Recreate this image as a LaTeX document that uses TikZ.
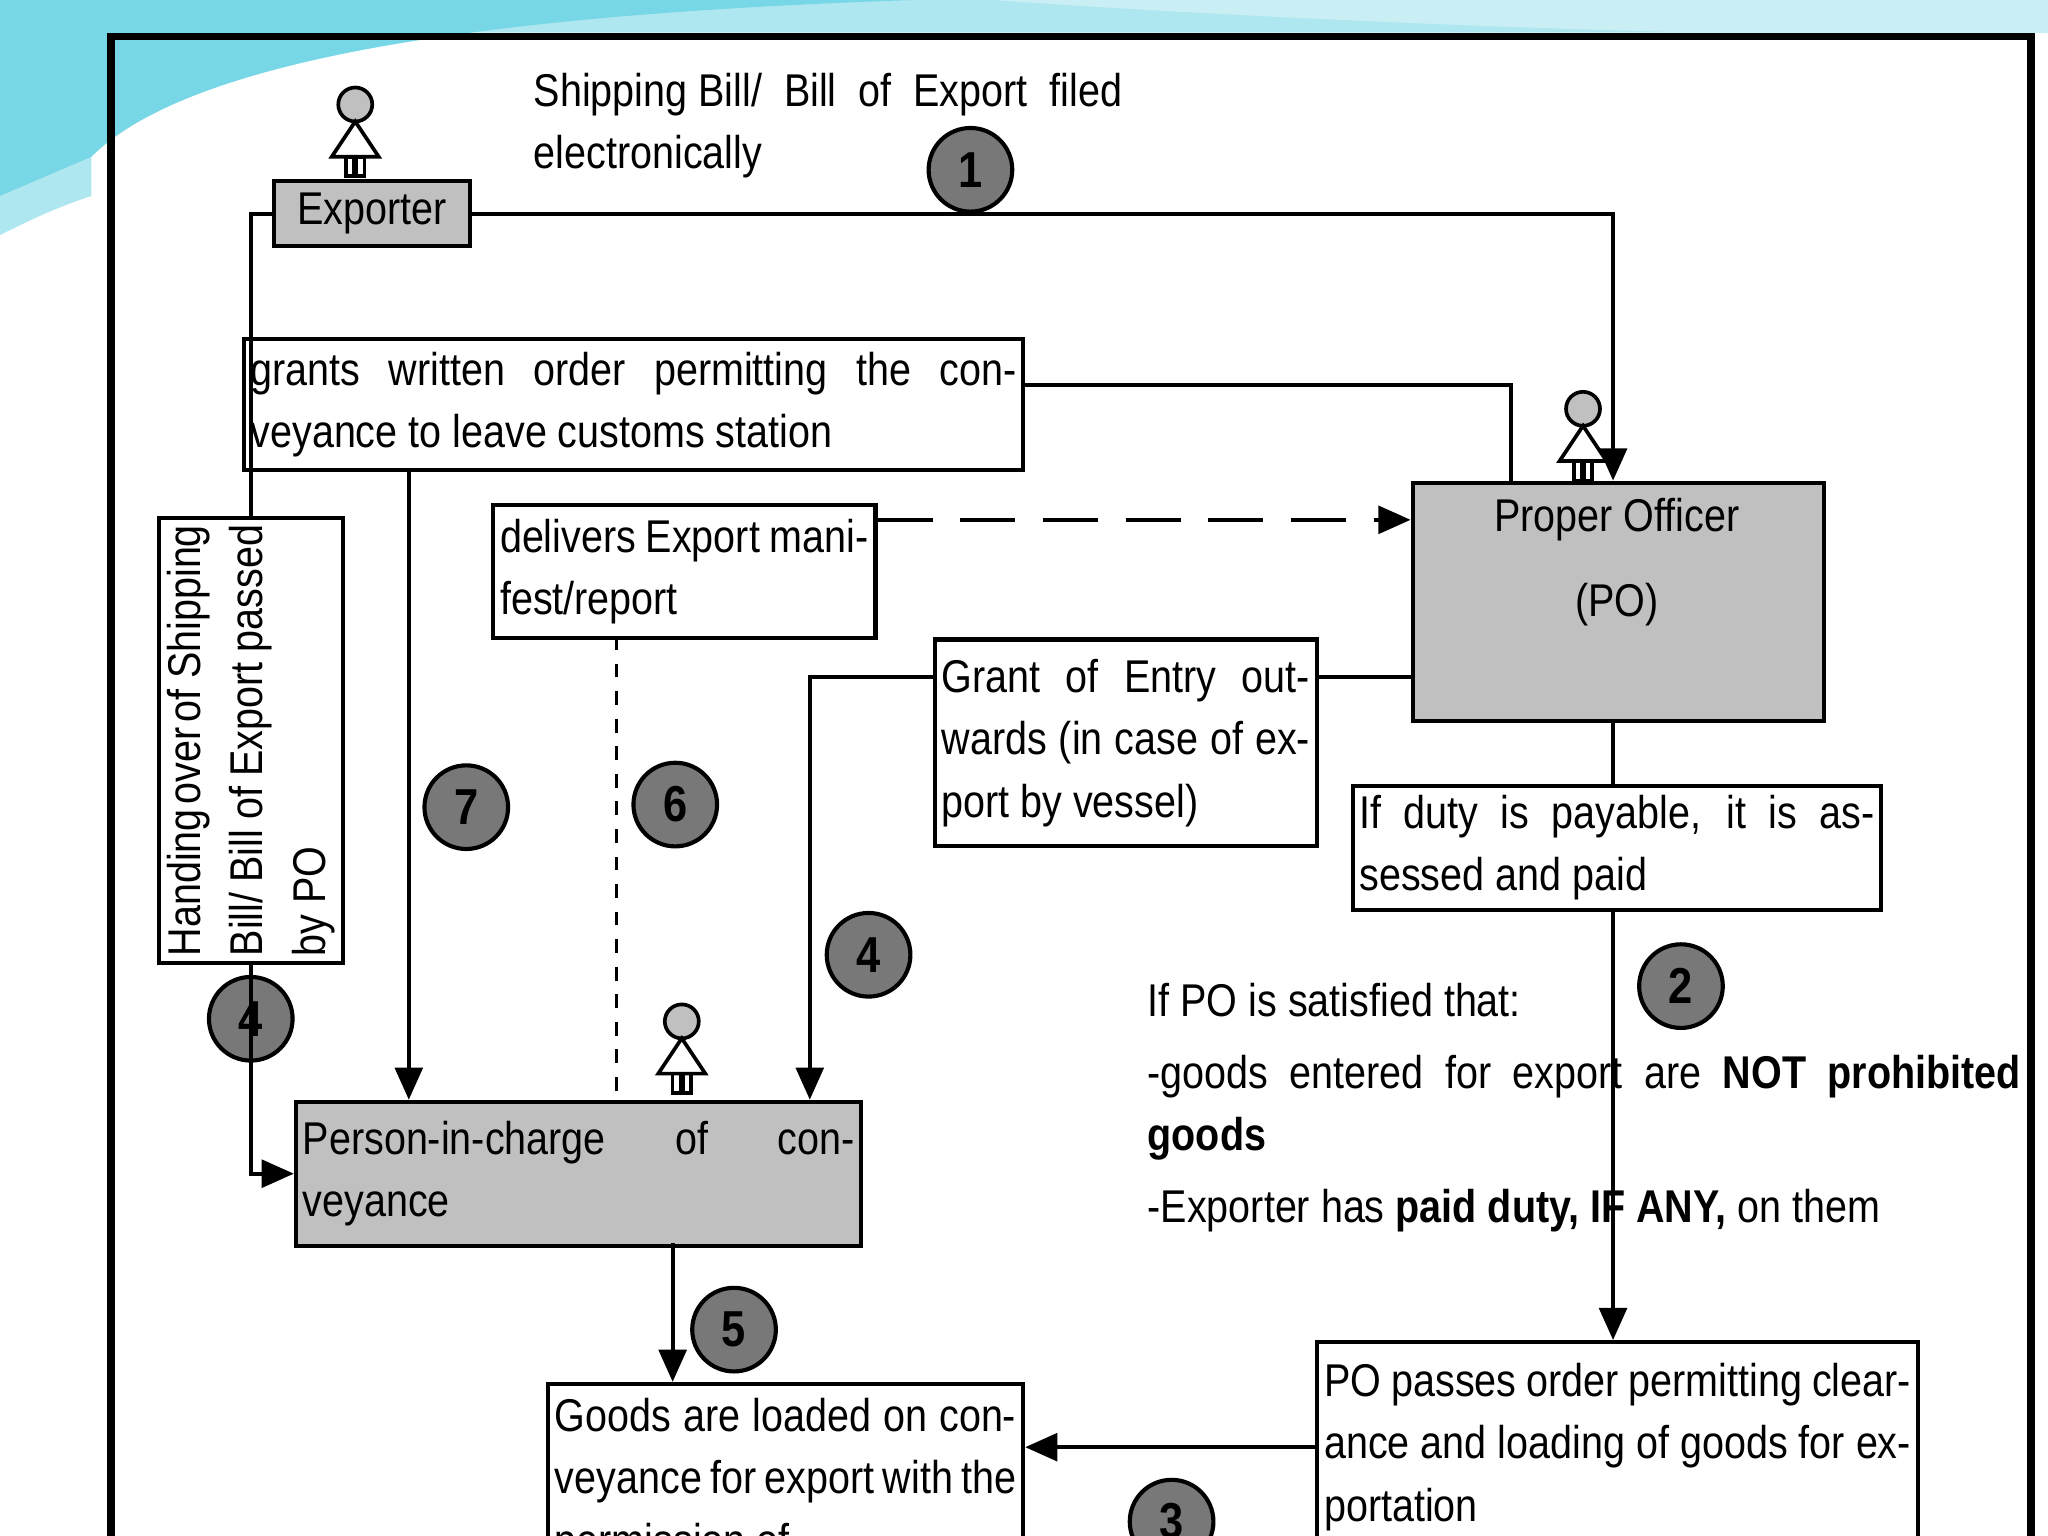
\documentclass[tikz,border=0pt]{standalone}
\usepackage{fontspec}
\setmainfont{Liberation Sans}[FakeStretch=0.86]
\usetikzlibrary{arrows.meta}
\definecolor{boxgray}{RGB}{192,192,192}
\definecolor{numgray}{RGB}{120,120,120}
\definecolor{deco}{RGB}{120,215,230}
\tikzset{
  x=0.01cm,y=-0.01cm,
  every node/.style={font=\fontsize{10}{13.6}\selectfont},
  txtbox/.style={draw,line width=0.9pt,align=justify,inner sep=1.5pt,anchor=north west},
  graybox/.style={txtbox,fill=boxgray},
  numc/.style={circle,draw,line width=0.9pt,fill=numgray,minimum size=0.64cm,inner sep=0pt,font=\fontsize{11}{12}\selectfont\bfseries},
  conn/.style={line width=0.9pt},
  arr/.style={conn,-{Triangle[length=7pt,width=6pt]}},
}
\newcommand\personicon[2]{%
  \draw[line width=0.8pt,fill=boxgray] (#1,#2) circle[radius=0.13cm];
  \draw[line width=0.8pt,fill=white] (#1,#2+13) -- (#1-18,#2+40) -- (#1+18,#2+40) -- cycle;
  \draw[line width=0.8pt] (#1-7,#2+40) rectangle (#1-1,#2+55) (#1+1,#2+40) rectangle (#1+7,#2+55);
}
\begin{document}
\begin{tikzpicture}
\useasboundingbox (0,0) rectangle (1568,1176);
\clip (0,0) rectangle (1568,1176);
\fill[white] (0,0) rectangle (1568,1176);
% decoration
\fill[deco!60] (0,0) -- (1568,0) -- (1568,25) -- (70,25) -- (70,150) .. controls (40,160) and (20,170) .. (0,180) -- cycle;
\fill[deco] (0,0) -- (700,0) .. controls (400,10) and (150,40) .. (70,120) -- (0,150) -- cycle;
\fill[deco!40] (760,0) .. controls (900,10) and (1100,20) .. (1300,25) -- (1568,25) -- (1568,0) -- cycle;
\draw[line width=1.6pt] (85,28) rectangle (1555,1200);
% Exporter
\node[graybox,minimum width=1.5cm,align=center,minimum height=0.5cm] (ex) at (208,137) {Exporter};
\personicon{272}{80}
\node[anchor=north west,align=left,inner sep=0pt] (t1) at (408,55) {Shipping Bill/\ \ Bill\ \ of\ \ Export\ \ filed\\electronically};
\node[numc] (n1) at (743,130) {1};
% PO
\node[graybox,minimum width=3.15cm,minimum height=1.82cm,inner sep=0pt] (po) at (1080,368) {};
\node at (1238,398) {Proper Officer};
\node at (1238,463) {(PO)};
\personicon{1212}{313}
\draw[arr] (ex.east) -| (1235,368);
% rotated box
\node[draw,line width=0.9pt,rotate=90,text width=3.3cm,align=justify,inner sep=1.5pt,minimum height=1.41cm] (hand) at (192,567) {Handing\hfill over\hfill of Shipping Bill/ Bill of Export passed by PO};
\node[numc] (n4a) at (192,780) {4};
% person in charge
\node[graybox,text width=4.22cm,minimum height=1.1cm] (pic) at (225,842) {Person-in-charge of conveyance};
\personicon{522}{782}
\draw[conn] (ex.west) -| (hand.east);
\draw[arr] (hand.west) |- (pic.west);
% grants
\node[txtbox,text width=5.86cm,minimum height=1.0cm] (gr) at (185,258) {grants written order permitting the conveyance to leave customs station};
\draw[conn] (gr.east |- 0,295) -| (1157,368);
\draw[arr] (313,358) -- (313,842);
\node[numc] (n7) at (357,618) {7};
% delivers
\node[txtbox,text width=2.82cm,minimum height=1.02cm] (del) at (376,385) {delivers Export manifest/report};
\draw[arr,dash pattern=on 12pt off 6pt] (del.east |- 0,398) -- (po.west |- 0,398);
\draw[conn,dashed,line width=0.7pt] (472,487) -- (472,842);
\node[numc] (n6) at (517,616) {6};
% grant of entry
\node[txtbox,text width=2.82cm,minimum height=1.58cm] (ge) at (714,488) {Grant of Entry outwards (in case of export by vessel)};
\draw[conn] (po.west |- 0,518) -- (ge.east |- 0,518);
\draw[arr] (ge.west |- 0,518) -| (620,842);
\node[numc] (n4b) at (665,731) {4};
% duty
\node[txtbox,text width=3.94cm,minimum height=0.95cm] (du) at (1034,600) {If duty is payable, it is assessed and paid};
\draw[conn] (po.south -| 1235,0) -- (du.north -| 1235,0);
\draw[arr] (du.south -| 1235,0) -- (1235,1026);
\node[numc] (n2) at (1287,755) {2};
\node[anchor=north west,text width=6.68cm,align=justify,inner sep=0pt] (sat) at (878,752) {If PO is satisfied that:\\[2pt]-goods entered for export are \textbf{NOT prohibited goods}\\[2pt]-Exporter has \textbf{paid duty, IF ANY,} on them};
% bottom
\draw[arr] (515,952) -- (515,1058);
\node[numc] (n5) at (562,1018) {5};
\node[txtbox,text width=3.53cm,minimum height=1.5cm] (gl) at (418,1058) {Goods are loaded on conveyance for export with the permission of};
\node[txtbox,text width=4.49cm,minimum height=1.6cm] (pp) at (1007,1026) {PO passes order permitting clearance and loading of goods for exportation};
\draw[arr] (pp.west |- 0,1108) -- (gl.east |- 0,1108);
\node[numc] (n3) at (897,1165) {3};
\end{tikzpicture}
\end{document}
